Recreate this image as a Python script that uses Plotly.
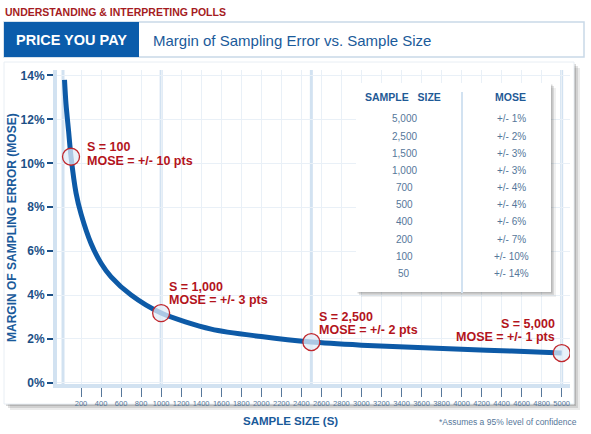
import plotly.graph_objects as go

# curve (sample size -> margin of sampling error, %)
sample_n = [35, 50, 75, 100, 150, 200, 300, 400, 500, 700, 1000, 1500, 2000,
            2500, 3000, 3500, 4000, 4500, 5000]
mose_pct = [13.8, 12.7, 11.5, 10.3, 8.65, 7.7, 6.35, 5.45, 4.83, 4.0, 3.18, 2.45,
            2.11, 1.86, 1.72, 1.62, 1.53, 1.45, 1.36]

# circled call-outs
callout_n = [100, 1000, 2500, 5000]
callout_mose = [10.3, 3.18, 1.86, 1.36]
callout_s = ["S = 100", "S = 1,000", "S = 2,500", "S = 5,000"]
callout_m = ["MOSE = +/- 10 pts", "MOSE = +/- 3 pts", "MOSE = +/- 2 pts", "MOSE = +/- 1 pts"]

# table
table_sizes = ["5,000", "2,500", "1,500", "1,000", "700", "500", "400", "200", "100", "50"]
table_mose = ["+/- 1%", "+/- 2%", "+/- 3%", "+/- 3%", "+/- 4%", "+/- 4%",
              "+/- 6%", "+/- 7%", "+/- 10%", "+/- 14%"]

x_ticks = list(range(200, 5001, 200))
y_ticks = [0, 2, 4, 6, 8, 10, 12, 14]

BLUE = "#0d5aa7"
DARK = "#1c4f86"
RED = "#b3141c"
LIGHT = "#d2e2f1"
GRID = "#e9f0f7"
GREY = "#56779a"

# plot area in pixels: left 57, right 570, top 70, bottom 384
def fx(p):
    return (p - 57) / 513.0

def fy(p):
    return (384 - p) / 314.0

fig = go.Figure()

fig.add_trace(go.Scatter(x=sample_n, y=mose_pct, mode="lines",
                         line=dict(color=BLUE, width=5, shape="spline", smoothing=0.8),
                         hoverinfo="skip"))
fig.add_trace(go.Scatter(x=callout_n, y=callout_mose, mode="markers",
                         marker=dict(size=17, color="rgba(225,236,247,0.75)",
                                     line=dict(color="#c0272d", width=1.3)),
                         hoverinfo="skip"))

shapes = []
# card shadow + card
for off, op in [(6, 0.10), (4, 0.15), (2, 0.2)]:
    shapes.append(dict(type="rect", xref="paper", yref="paper", layer="below",
                       x0=fx(4 + off), x1=fx(574 + off), y0=fy(404 + off), y1=fy(62 + off),
                       line=dict(width=0), fillcolor="rgba(60,60,60,%s)" % op))
shapes.append(dict(type="rect", xref="paper", yref="paper", layer="below",
                   x0=fx(4), x1=fx(574), y0=fy(404), y1=fy(62),
                   line=dict(width=1, color="#e8eef4"), fillcolor="white"))
# highlighted verticals
for v in [20, 1000, 2500, 5000]:
    shapes.append(dict(type="line", xref="x", yref="paper", layer="below",
                       x0=v, x1=v, y0=0, y1=1, line=dict(color=LIGHT, width=3)))
# banner
shapes.append(dict(type="rect", xref="paper", yref="paper",
                   x0=fx(4), x1=fx(584), y0=fy(57), y1=fy(22),
                   line=dict(width=1.5, color="#c9d9e8"), fillcolor="white"))
shapes.append(dict(type="rect", xref="paper", yref="paper",
                   x0=fx(4), x1=fx(139), y0=fy(57), y1=fy(22),
                   line=dict(width=0), fillcolor="#0b5cab"))
# table box
for off, op in [(5, 0.08), (3, 0.14), (1.5, 0.2)]:
    shapes.append(dict(type="rect", xref="paper", yref="paper",
                       x0=fx(356 + off), x1=fx(551 + off), y0=fy(292 + off), y1=fy(83 + off),
                       line=dict(width=0), fillcolor="rgba(60,60,60,%s)" % op))
shapes.append(dict(type="rect", xref="paper", yref="paper",
                   x0=fx(356), x1=fx(551), y0=fy(292), y1=fy(83),
                   line=dict(width=0), fillcolor="white"))
shapes.append(dict(type="line", xref="paper", yref="paper",
                   x0=fx(462), x1=fx(462), y0=fy(293), y1=fy(92),
                   line=dict(width=2, color=LIGHT)))

ann = []
ann.append(dict(text="<b>UNDERSTANDING & INTERPRETING POLLS</b>", x=fx(3), y=fy(12),
                xanchor="left", yanchor="middle",
                font=dict(family="Liberation Sans Narrow, Liberation Sans", size=10.5, color="#a51b22")))
ann.append(dict(text="<b>PRICE YOU PAY</b>", x=fx(71), y=fy(40), xanchor="center", yanchor="middle",
                font=dict(family="Liberation Sans", size=14.5, color="white")))
ann.append(dict(text="Margin of Sampling Error vs. Sample Size", x=fx(151), y=fy(40),
                xanchor="left", yanchor="middle",
                font=dict(family="Liberation Sans", size=15, color="#1a5a9a")))
ann.append(dict(text="<b>MARGIN OF SAMPLING ERROR (MOSE)</b>", x=fx(12), y=fy(228), textangle=-90,
                xanchor="center", yanchor="middle",
                font=dict(family="Liberation Sans", size=12, color="#1a5a9a")))
ann.append(dict(text="<b>SAMPLE SIZE (S)</b>", x=fx(290), y=fy(421), xanchor="center", yanchor="middle",
                font=dict(family="Liberation Sans", size=11.5, color="#1a5a9a")))
ann.append(dict(text="*Assumes a 95% level of confidence", x=fx(579), y=fy(422),
                xanchor="right", yanchor="middle",
                font=dict(family="Liberation Sans", size=8.5, color=GREY)))

# call-out labels
offs = [(14, 3, "left"), (6, 20, "left"), (6, 19, "left"), (-5, 23, "right")]
for i in range(len(callout_n)):
    dx, dy, side = offs[i]
    for j, txt in enumerate([callout_s[i], callout_m[i]]):
        ann.append(dict(text="<b>%s</b>" % txt, x=callout_n[i], y=callout_mose[i],
                        xref="x", yref="y", xanchor=side, yanchor="middle", align=side,
                        xshift=dx, yshift=dy + 6.5 - 13.5 * j, showarrow=False,
                        font=dict(family="Liberation Sans", size=12.5, color=RED)))

# table text
ann.append(dict(text="<b>SAMPLE   SIZE</b>", x=fx(403), y=fy(97), xanchor="center", yanchor="middle",
                font=dict(family="Liberation Sans", size=10.5, color="#1f5a96")))
ann.append(dict(text="<b>MOSE</b>", x=fx(510), y=fy(97), xanchor="center", yanchor="middle",
                font=dict(family="Liberation Sans", size=10.5, color="#1f5a96")))
for i in range(len(table_sizes)):
    yy = 119 + i * 17.15
    ann.append(dict(text=table_sizes[i], x=fx(404), y=fy(yy), xanchor="center", yanchor="middle",
                    font=dict(family="Liberation Sans", size=10, color=GREY)))
    ann.append(dict(text=table_mose[i], x=fx(511), y=fy(yy), xanchor="center", yanchor="middle",
                    font=dict(family="Liberation Sans", size=10, color=GREY)))

for a in ann:
    a.setdefault("xref", "paper")
    a.setdefault("yref", "paper")
    a.setdefault("showarrow", False)

fig.update_layout(
    width=591, height=434,
    margin=dict(l=57, r=21, t=70, b=50),
    paper_bgcolor="white", plot_bgcolor="rgba(0,0,0,0)",
    showlegend=False,
    shapes=shapes, annotations=ann,
    xaxis=dict(range=[-40, 5083], tickvals=x_ticks, ticktext=[str(v) for v in x_ticks],
               showgrid=True, gridcolor=GRID, gridwidth=1, zeroline=False,
               showline=True, linecolor=LIGHT, linewidth=4,
               ticks="outside", ticklen=9, tickwidth=1, tickcolor=GREY,
               tickfont=dict(family="Liberation Sans", size=7.5, color=GREY), fixedrange=True),
    yaxis=dict(range=[-0.05, 14.25], tickvals=y_ticks, ticktext=["%d%%" % v for v in y_ticks],
               showgrid=True, gridcolor=GRID, gridwidth=1, zeroline=False,
               showline=True, linecolor=LIGHT, linewidth=4,
               ticks="outside", ticklen=6, tickwidth=1.5, tickcolor=DARK,
               tickfont=dict(family="Liberation Sans", size=12, color=DARK, weight="bold"),
               fixedrange=True),
)

# page default margin would push the figure 8px down/right
fig.write_html("out.html", config={"displayModeBar": False},
               post_script="document.body.style.margin='0';")
